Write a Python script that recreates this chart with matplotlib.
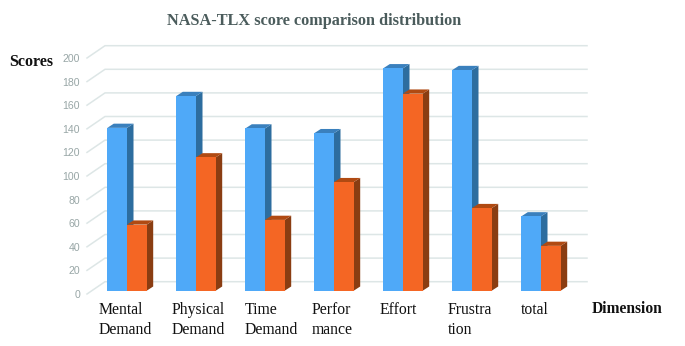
import matplotlib
matplotlib.use("Agg")
import matplotlib.pyplot as plt

categories = ["Mental\nDemand", "Physical\nDemand", "Time\nDemand", "Perfor\nmance",
              "Effort", "Frustra\ntion", "total"]
blue_values = [138, 165, 137.5, 133.5, 188.5, 187, 63]
orange_values = [56, 113, 60, 92, 167, 70, 38]
y_ticks = list(range(0, 201, 20))

W, H, DPI = 685, 346, 100
PX_X = 69.0       # pixels per category
PX_Y = 1.18       # pixels per score unit
XU, YU = 1 / PX_X, 1 / PX_Y
LEFT, RIGHT, BOTTOM, TOP = 87, 587, 294, 58

fig = plt.figure(figsize=(W / DPI, H / DPI), dpi=DPI)
ax = fig.add_axes([LEFT / W, 1 - BOTTOM / H, (RIGHT - LEFT) / W, (BOTTOM - TOP) / H])
ax.set_xlim((LEFT - 127) * XU, (RIGHT - 127) * XU)
ax.set_ylim(0, (BOTTOM - TOP) * YU)
ax.patch.set_alpha(0)
for s in ax.spines.values():
    s.set_visible(False)

SERIF = "Liberation Serif"
GRID = "#dde6e6"
# gridlines: short diagonal on the side wall, long run on the back wall
DX_BACK, DY_BACK = 18 * XU, 12.3 * YU
x0, x1 = ax.get_xlim()
for t in y_ticks:
    ax.plot([x0, x0 + DX_BACK, x1], [t, t + DY_BACK, t + DY_BACK],
            color=GRID, lw=1.1, clip_on=False, zorder=1, solid_joinstyle="miter")

ax.set_yticks(y_ticks)
ax.tick_params(axis="y", length=0, pad=5, labelsize=7.6, labelcolor="#98a6a6")
for lab in ax.get_yticklabels():
    lab.set_family("Liberation Sans")
ax.set_xticks([])

# bars
LIFT = 3.3 * YU
BW = 19.7 * XU
DX, DY = 6.5 * XU, 4.2 * YU


def bar3d(xc, left, val, front, side, top, z):
    base, y = LIFT, LIFT + val
    right = left + BW
    ax.bar(left, val, width=BW, bottom=base, align="edge", color=front, zorder=z + 0.2, lw=0)
    ax.fill([right, right + DX, right + DX, right],
            [base, base + DY, y + DY, y], color=side, zorder=z, lw=0)
    ax.fill([left, left + DX, right + DX, right],
            [y, y + DY, y + DY, y], color=top, zorder=z + 0.1, lw=0)


for i, (b, o) in enumerate(zip(blue_values, orange_values)):
    bar3d(i, i - BW, b, "#4fa9f8", "#2d6d9f", "#3a80bd", 3 + i)
    bar3d(i, i, o, "#f46624", "#8a3d12", "#b04a12", 3.5 + i)

# category labels
nudges = [-28, -24, -20, -22, -23, -24, -20]
for i, (lab, n) in enumerate(zip(categories, nudges)):
    ax.annotate(lab, (i, 0), xytext=(n, -8), textcoords="offset pixels",
                ha="left", va="top", family=SERIF, fontsize=11.3, color="#111111",
                linespacing=1.3, annotation_clip=False,
                fontweight="normal")

fig.text(314 / W, 1 - 21 / H, "NASA-TLX score comparison distribution", ha="center", va="center",
         family=SERIF, fontweight="bold", fontsize=11.7, color="#4b5c5c")
fig.text(9 / W, 1 - 62 / H, "Scores", ha="left", va="center",
         family=SERIF, fontweight="bold", fontsize=11.5, color="#111111")
fig.text(592 / W, 1 - 309 / H, "Dimension", ha="left", va="center",
         family=SERIF, fontweight="bold", fontsize=11.2, color="#111111")

fig.savefig("out.png", dpi=DPI)
